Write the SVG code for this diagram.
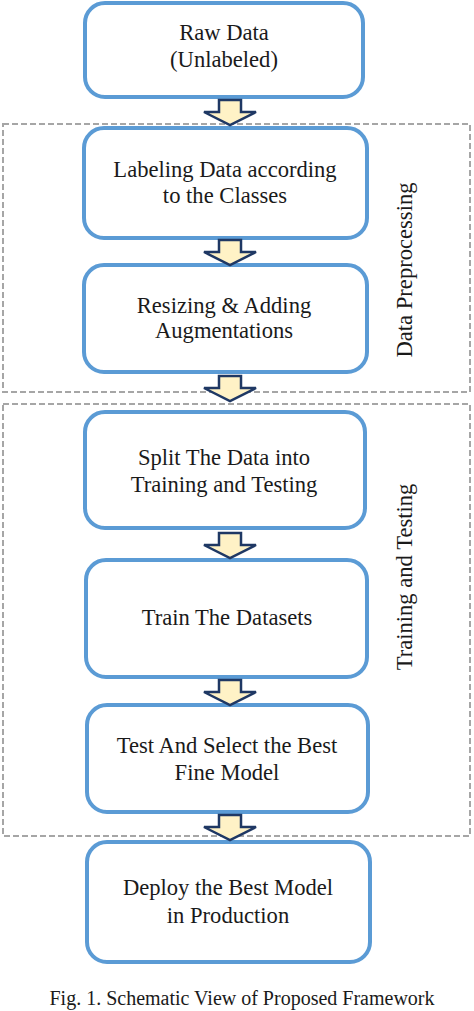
<svg xmlns="http://www.w3.org/2000/svg" width="474" height="1011" viewBox="0 0 474 1011">
<defs>
<style>
.node{fill:#ffffff;stroke:#5b9bd5;stroke-width:4}
.grp{fill:none;stroke:#a6a6a6;stroke-width:2;stroke-dasharray:6 3}
.t{font-family:"Liberation Serif","Times New Roman",serif;font-size:22.6px;fill:#1a1a1a;text-anchor:middle}
.arr{fill:#fff2c6;stroke:#1f3864;stroke-width:2.5;stroke-linejoin:miter}
</style>
<path id="arrow" d="M-11,0 H11 V12 H26 L0,25 L-26,12 H-11 Z"/>
</defs>
<rect width="474" height="1011" fill="#ffffff"/>
<g id="groups">
<rect class="grp" x="3" y="124" width="467" height="268"/>
<rect class="grp" x="3" y="404" width="467" height="432"/>
<text class="t" transform="translate(412,270) rotate(-90)">Data Preprocessing</text>
<text class="t" transform="translate(412,577) rotate(-90)">Training and Testing</text>
</g>
<g id="n1"><rect class="node" x="85" y="3" width="278" height="94" rx="20"/>
<text class="t" x="224" y="40">Raw Data</text><text class="t" x="224" y="67">(Unlabeled)</text></g>
<g id="n2"><rect class="node" x="84" y="128" width="283" height="110" rx="20"/>
<text class="t" x="225" y="177">Labeling Data according</text><text class="t" x="225" y="203">to the Classes</text></g>
<g id="n3"><rect class="node" x="84" y="265" width="283" height="107" rx="20"/>
<text class="t" x="224" y="313">Resizing &amp; Adding</text><text class="t" x="224" y="338">Augmentations</text></g>
<g id="n4"><rect class="node" x="85" y="412" width="280" height="116" rx="20"/>
<text class="t" x="224" y="465">Split The Data into</text><text class="t" x="224" y="492">Training and Testing</text></g>
<g id="n5"><rect class="node" x="86" y="560" width="281" height="117" rx="20"/>
<text class="t" x="227" y="625">Train The Datasets</text></g>
<g id="n6"><rect class="node" x="87" y="705" width="281" height="107" rx="20"/>
<text class="t" x="227" y="753">Test And Select the Best</text><text class="t" x="227" y="780">Fine Model</text></g>
<g id="n7"><rect class="node" x="87" y="842" width="283" height="120" rx="20"/>
<text class="t" x="228" y="895">Deploy the Best Model</text><text class="t" x="228" y="923">in Production</text></g>
<g id="connectors">
<use href="#arrow" class="arr" x="230" y="100"/>
<use href="#arrow" class="arr" x="230" y="240"/>
<use href="#arrow" class="arr" x="230" y="376"/>
<use href="#arrow" class="arr" x="230" y="533"/>
<use href="#arrow" class="arr" x="230" y="680"/>
<use href="#arrow" class="arr" x="230" y="815"/>
</g>
<text class="t" x="242" y="1005" style="font-size:20px">Fig. 1. Schematic View of Proposed Framework</text>
</svg>
